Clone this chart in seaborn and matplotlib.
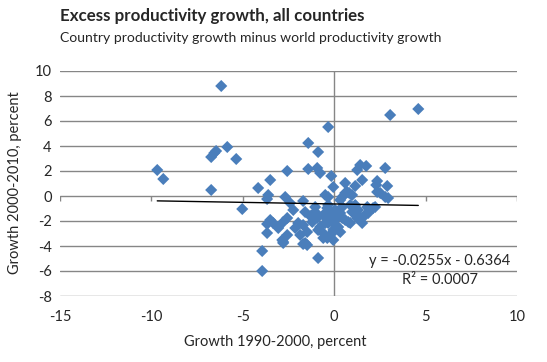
import numpy as np
import pandas as pd
import seaborn as sns
import matplotlib.pyplot as plt

# Growth 1990-2000 (x) and 2000-2010 (y), excess over world, percent
growth_1990_2000 = [
    -9.68, -9.35, -6.18, -6.73, -6.73, -6.56, -6.46, -5.85, -5.36, -5.03,
    -4.16, -3.50, -2.57, -3.61, -3.67, -2.68, -2.41, -1.70, -2.24, -1.59,
    -1.04, -1.42, -0.88, -0.33, -1.42, -0.93, -0.77, -0.16, -0.05, 0.60,
    1.26, 1.42, 1.75, 2.79, 2.35, 2.30, 2.90, 2.35, 2.79, 2.95,
    3.06, 4.60, -0.49, -0.33, 0.71, 0.98, 0.82, 0.33, 1.15, 1.81,
    2.52, 2.13, 1.70, 1.31, 0.88, 0.44, 0.05, -0.33, 1.26, 0.60,
    0.16, -0.33, 0.22, -0.11, -0.38, -0.22, 0.33, 1.53, 1.86, 2.24,
    0.88, -0.60, -1.70, -2.79, -0.05, 0.33, -0.88, -3.94, -3.94, -3.50,
    -3.67, -3.34, -3.67, -2.79, -2.57, -1.97, -1.70, -1.20, -0.93, -0.77,
    -0.49, -0.22, -0.60, -0.38, -0.88, -1.48, -1.86, -2.57, -2.84, -2.79,
    -1.59, -1.48, 0.77, 1.42, 0.60, -0.44, 0.05, 0.44, -1.04, -1.31,
    0.98, -0.05, -0.66, -2.13, -3.06, 1.15, 1.53, 0.44,
]
growth_2000_2010 = [
    2.08, 1.36, 8.80, 0.48, 3.12, 3.44, 3.60, 3.92, 2.96, -1.04,
    0.64, 1.28, 2.00, 0.08, -0.24, -0.08, -0.56, -0.40, -1.12, -1.28,
    -0.88, 4.24, 3.52, 5.52, 2.16, 2.24, 1.84, 1.60, 0.72, 1.04,
    2.08, 2.48, 2.40, 2.24, 1.20, 0.88, 0.80, 0.32, -0.08, -0.16,
    6.48, 6.96, 0.08, -0.08, 0.32, 0.08, 0.24, -0.32, -0.72, -0.88,
    0.24, -0.96, -1.52, -1.12, -0.72, -0.88, -1.12, -0.72, -1.76, -1.92,
    -1.76, -2.16, -2.48, -2.96, -3.36, -1.52, -1.36, -2.16, -1.36, -0.88,
    -2.16, -3.36, -3.84, -3.68, -3.52, -2.88, -4.96, -4.40, -6.00, -1.92,
    -2.24, -2.16, -2.96, -2.08, -1.76, -2.16, -2.32, -2.08, -1.76, -2.48,
    -2.16, -1.92, -1.52, -0.96, -2.72, -2.88, -3.12, -3.12, -3.52, -3.76,
    -3.76, -3.92, -2.08, -1.68, 0.24, -1.68, -2.32, -1.76, -1.28, -1.60,
    -1.28, -2.72, -2.88, -2.56, -2.56, 0.80, 1.28, -0.08,
]

# linear trendline as reported in the chart
slope = -0.0255
intercept = -0.6364
r_squared = 0.0007

x_ticks = [-15, -10, -5, 0, 5, 10]
y_ticks = [-8, -6, -4, -2, 0, 2, 4, 6, 8, 10]

df = pd.DataFrame({"x": growth_1990_2000, "y": growth_2000_2010})

sns.set_style("white")
plt.rcParams["font.family"] = ["Lato", "DejaVu Sans"]
plt.rcParams["axes.unicode_minus"] = False

fig = plt.figure(figsize=(5.47, 3.62), dpi=100)
ax = fig.add_axes([60 / 547, 1 - 296 / 362, 457 / 547, 225 / 362])

grid_col = "#868686"
for yv in y_ticks:
    ax.axhline(yv, color=grid_col, lw=1, zorder=0)
ax.axvline(0, color=grid_col, lw=1, zorder=0)
ax.vlines(x_ticks, 0, -0.4, color=grid_col, lw=1, zorder=0)

sns.scatterplot(data=df, x="x", y="y", marker="D", color="#4A7EBB",
                s=38, edgecolor="none", ax=ax, zorder=3)

xs = np.array([df["x"].min(), df["x"].max()])
ax.plot(xs, slope * xs + intercept, color="black", lw=1, zorder=4)

ax.set_xlim(-15, 10)
ax.set_ylim(-8, 10)
ax.set_xticks(x_ticks)
ax.set_yticks(y_ticks)
ax.tick_params(length=0, labelsize=10.5, pad=6)
ax.tick_params(axis="x", pad=10)
for s in ax.spines.values():
    s.set_visible(False)
ax.set_xlabel("")
ax.set_ylabel("")

fig.text(275 / 547, 1 - 342 / 362, "Growth 1990-2000, percent", ha="center",
         va="center", fontsize=10.5)
fig.text(15 / 547, 1 - 183 / 362, "Growth 2000-2010, percent", ha="center",
         va="center", rotation=90, fontsize=10.5)
fig.text(60 / 547, 1 - 16 / 362, "Excess productivity growth, all countries",
         ha="left", va="center", fontsize=12.2, fontweight="bold")
fig.text(60 / 547, 1 - 38 / 362,
         "Country productivity growth minus world productivity growth",
         ha="left", va="center", fontsize=10.1)

ax.text(440 / 547, 1 - 261 / 362, f"y = {slope}x - {abs(intercept)}",
        transform=fig.transFigure, ha="center", va="center", fontsize=10.5)
ax.text(440 / 547, 1 - 280 / 362, f"R\u00b2 = {r_squared:.4f}",
        transform=fig.transFigure, ha="center", va="center", fontsize=10.5)

plt.savefig("out.png", dpi=100)
